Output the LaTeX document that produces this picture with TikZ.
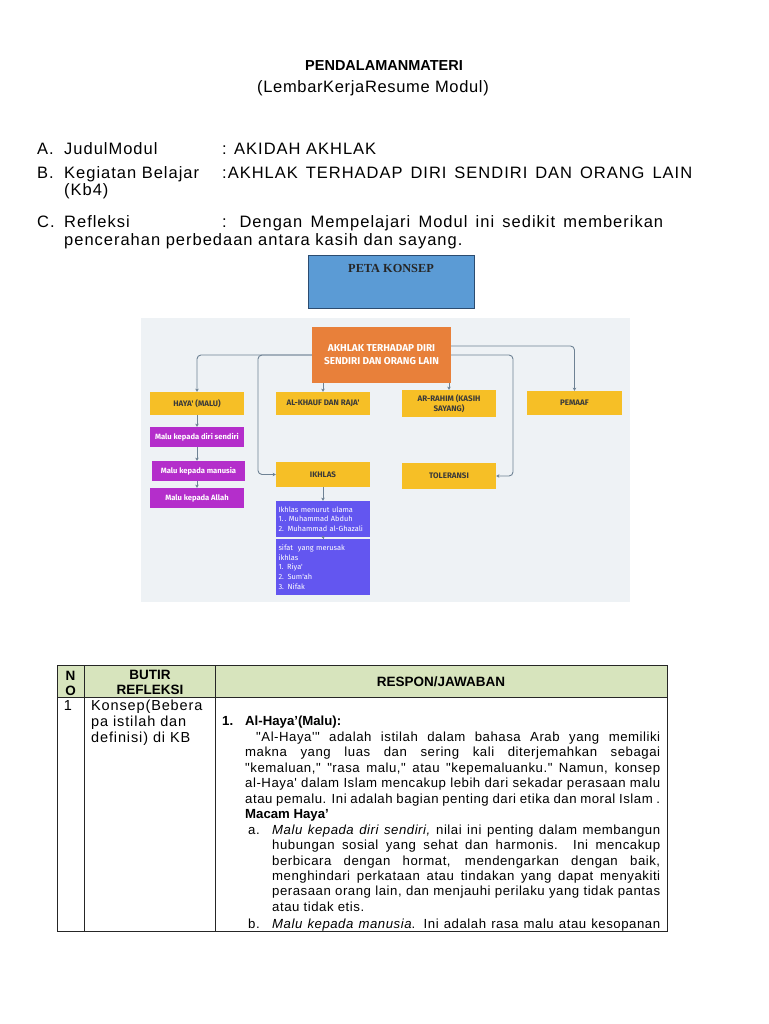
\documentclass[tikz,border=0pt]{standalone}
\usepackage{fontspec}
\setmainfont{Liberation Sans}
\newfontfamily\hdrfont[LetterSpace=6]{Liberation Sans}
\newfontfamily\subfont[LetterSpace=4]{Liberation Sans}
\newfontfamily\tabfont[LetterSpace=4]{Liberation Sans}
\newfontfamily\tabfontB[LetterSpace=6]{Liberation Sans}
\newfontfamily\mapfont{Fira Sans}
\newfontfamily\pserif{Liberation Serif}
\usetikzlibrary{arrows.meta}
\definecolor{panelbg}{HTML}{EEF2F5}
\definecolor{rootor}{HTML}{E8803A}
\definecolor{myyellow}{HTML}{F6BF26}
\definecolor{mypurple}{HTML}{B42ECB}
\definecolor{myblue}{HTML}{6356F0}
\definecolor{linecol}{HTML}{6E8294}
\definecolor{mapdark}{HTML}{3A3A3A}
\definecolor{petafill}{HTML}{5B9BD5}
\definecolor{petaline}{HTML}{2C4C70}
\definecolor{hdrgreen}{HTML}{D7E4BD}
\begin{document}
\begin{tikzpicture}[x=1pt,y=-1pt,
  hl/.style={anchor=base west, inner sep=0pt, font=\hdrfont\fontsize{16.5}{19}\selectfont},
  tl/.style={anchor=base west, inner sep=0pt, font=\tabfont\fontsize{13.2}{15}\selectfont},
  tb/.style={anchor=base west, inner sep=0pt, font=\bfseries\fontsize{13.2}{15}\selectfont},
  th/.style={anchor=base, inner sep=0pt, font=\bfseries\fontsize{13.5}{15}\selectfont},
  kl/.style={anchor=base west, inner sep=0pt, font=\tabfontB\fontsize{14.5}{16}\selectfont},
  ybox/.style={fill=myyellow, draw=none, minimum width=94pt, inner sep=1pt, align=center,
     text=mapdark, font=\mapfont\bfseries\fontsize{8}{9.5}\selectfont},
  pbox/.style={fill=mypurple, draw=none, minimum width=94pt, minimum height=20pt, inner sep=1pt,
     text=white, font=\mapfont\bfseries\fontsize{7.6}{9}\selectfont},
  bbox/.style={fill=myblue, draw=none, minimum width=94pt, text width=89pt, inner xsep=2.5pt, align=left,
     text=white, font=\mapfont\fontsize{7.4}{9.6}\selectfont},
  conn/.style={draw=linecol, line width=0.9pt, rounded corners=4pt, -{Stealth[length=3.2pt,width=3.6pt]}},
  tline/.style={draw=black!85, line width=0.7pt}
]
\useasboundingbox[fill=white] (0,0) rectangle (768,1024);

% ---------- header ----------
\node[anchor=base, inner sep=0pt, font=\bfseries\fontsize{14.5}{16}\selectfont] (title) at (384,71) {PENDALAMANMATERI};
\node[anchor=base, inner sep=0pt, font=\subfont\fontsize{16.5}{19}\selectfont] (subtitle) at (373,93) {(LembarKerjaResume Modul)};

\node[hl] (aL) at (37,155) {A.};
\node[hl] (aT) at (64,155) {JudulModul};
\node[hl] (aV) at (222,155) {: AKIDAH AKHLAK};
\node[hl] (bL) at (37,179) {B.};
\node[hl] (bT) at (64,179) {Kegiatan Belajar};
\node[hl] (bV) at (222,179) {\makebox[470pt][s]{:AKHLAK TERHADAP DIRI SENDIRI DAN ORANG LAIN}};
\node[hl] (bT2) at (64,196) {(Kb4)};
\node[hl] (cL) at (37,228) {C.};
\node[hl] (cT) at (64,228) {Refleksi};
\node[hl] (cV) at (222,228) {\makebox[441pt][s]{: Dengan Mempelajari Modul ini sedikit memberikan}};
\node[hl] (cV2) at (64,245.5) {pencerahan perbedaan antara kasih dan sayang.};

% ---------- peta konsep box ----------
\node[draw=petaline, fill=petafill, line width=0.8pt, minimum width=166pt, minimum height=53pt, inner sep=0pt] (peta) at (391,281.5) {};
\node[inner sep=0pt, anchor=base, font=\pserif\bfseries\fontsize{12.3}{14}\selectfont, text=black!85] (petaT) at (391,272.5) {PETA KONSEP};

% ---------- concept map ----------
\fill[panelbg] (141,318) rectangle (630,602);

\node[fill=rootor, minimum width=139pt, minimum height=56pt, inner sep=1pt, align=center, text=white,
      font=\mapfont\bfseries\fontsize{10}{13}\selectfont] (root) at (381.5,355) {AKHLAK TERHADAP DIRI\\SENDIRI DAN ORANG LAIN};

\node[ybox, minimum height=23pt] (haya) at (197,403.5) {HAYA' (MALU)};
\node[ybox, minimum height=23pt] (khauf) at (323,403.5) {AL-KHAUF DAN RAJA'};
\node[ybox, minimum height=27pt] (rahim) at (449,403.5) {AR-RAHIM (KASIH\\SAYANG)};
\node[ybox, minimum width=95pt, minimum height=24pt] (pemaaf) at (574.5,403) {PEMAAF};

\node[pbox] (diri) at (197,437) {Malu kepada diri sendiri};
\node[pbox, minimum width=93pt] (manusia) at (198.5,471) {Malu kepada manusia};
\node[pbox] (allah) at (197,498) {Malu kepada Allah};

\node[ybox, minimum height=25pt] (ikhlas) at (323,474.5) {IKHLAS};
\node[ybox, minimum height=26pt] (toleransi) at (449,476) {TOLERANSI};

\node[bbox, minimum height=36pt] (ulama) at (323,519) {Ikhlas menurut ulama\\1.\,.\ Muhammad Abduh\\2. Muhammad al-Ghazali};
\node[bbox, minimum height=56pt] (sifat) at (323,567) {sifat\ \ yang merusak\\ikhlas\\1. Riya'\\2. Sum'ah\\3. Nifak};

% connectors
\draw[conn] (root.west) -| (haya.north);
\draw[conn] (root.west) -- (258,355) |- (ikhlas.west);
\draw[conn] ([yshift=9pt]root.east) -| (pemaaf.north);
\draw[conn] (root.east) -- (513,355) |- (toleransi.east);
\draw[conn] (root.south -| khauf.north) -- (khauf.north);
\draw[conn] (root.south -| rahim.north) -- (rahim.north);
\draw[conn] (haya.south) -- (diri.north);
\draw[conn] (diri.south) -- (diri.south |- manusia.north);
\draw[conn] (manusia.south -| allah.north) -- (allah.north);
\draw[conn] (ikhlas.south) -- (ulama.north);
\draw[draw=linecol, line width=0.9pt] (ulama.south) -- (sifat.north);
\fill[linecol] (ulama.south) circle (1.3pt);

% ---------- table ----------
\fill[hdrgreen] (57,665) rectangle (667,697);
\draw[tline] (57,697) -- (667,697);
\draw[tline] (84,665) -- (84,931);
\draw[tline] (215,665) -- (215,931);
\draw[draw=black!85, line width=1pt] (57,665) rectangle (667,931);

\node[th] (hN1) at (70.5,680) {N};
\node[th] (hN2) at (70.5,695) {O};
\node[th] (hB1) at (150,679) {BUTIR};
\node[th] (hB2) at (150,694) {REFLEKSI};
\node[th] (hR) at (441,686) {RESPON/JAWABAN};

\node[kl, anchor=base] (n1) at (68,710.5) {1};
\node[kl] (k1) at (91,710.5) {Konsep(Bebera};
\node[kl] (k2) at (91,726.5) {pa istilah dan};
\node[kl] (k3) at (91,742.5) {definisi) di KB};

\node[tb] (r0a) at (222,725) {1.};
\node[tb] (r0b) at (245,725) {Al-Haya’(Malu):};
\node[tl] (r1) at (256,741) {\makebox[404pt][s]{"Al-Haya'" adalah istilah dalam bahasa Arab yang memiliki}};
\node[tl] (r2) at (245,756.5) {\makebox[415pt][s]{makna yang luas dan sering kali diterjemahkan sebagai}};
\node[tl] (r3) at (245,772) {\makebox[415pt][s]{"kemaluan," "rasa malu," atau "kepemaluanku." Namun, konsep}};
\node[tl] (r4) at (245,787.5) {\makebox[415pt][s]{al-Haya' dalam Islam mencakup lebih dari sekadar perasaan malu}};
\node[tl] (r5) at (245,803) {\makebox[415pt][s]{atau pemalu. Ini adalah bagian penting dari etika dan moral Islam .}};
\node[tb] (r6) at (245,818.5) {Macam Haya’};
\node[tl] (r7a) at (248,834) {a.};
\node[tl] (r7) at (272,834) {\makebox[388pt][s]{\itshape Malu kepada diri sendiri,\upshape{} nilai ini penting dalam membangun}};
\node[tl] (r8) at (272,849.5) {\makebox[388pt][s]{hubungan sosial yang sehat dan harmonis. Ini mencakup}};
\node[tl] (r9) at (272,865) {\makebox[388pt][s]{berbicara dengan hormat, mendengarkan dengan baik,}};
\node[tl] (r10) at (272,880) {\makebox[388pt][s]{menghindari perkataan atau tindakan yang dapat menyakiti}};
\node[tl] (r11) at (272,895) {\makebox[388pt][s]{perasaan orang lain, dan menjauhi perilaku yang tidak pantas}};
\node[tl] (r12) at (272,911.5) {atau tidak etis.};
\node[tl] (r13a) at (248,928) {b.};
\node[tl] (r13) at (272,928) {\makebox[388pt][s]{\itshape Malu kepada manusia\upshape. Ini adalah rasa malu atau kesopanan}};
\end{tikzpicture}
\end{document}
